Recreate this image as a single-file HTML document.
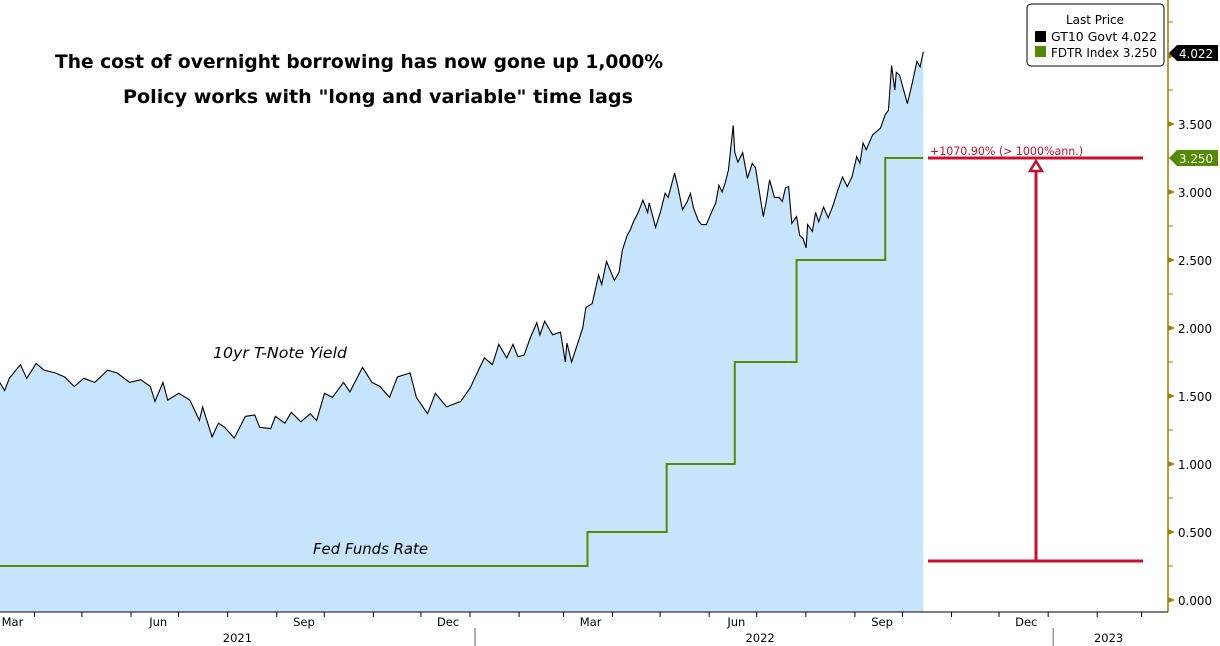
<!DOCTYPE html>
<html><head><meta charset="utf-8">
<style>
html,body{margin:0;padding:0;background:#fff;}
svg{display:block;font-family:"DejaVu Sans","Liberation Sans",sans-serif;}
</style></head>
<body>
<svg id="chart" width="1220" height="646" viewBox="0 0 1220 646" xmlns="http://www.w3.org/2000/svg">
  <g id="plot"></g>
  <g id="axes"></g>
  <text x="55" y="68" font-size="19" font-weight="bold" textLength="608" lengthAdjust="spacingAndGlyphs">The cost of overnight borrowing has now gone up 1,000%</text>
  <text x="123" y="103" font-size="19" font-weight="bold" textLength="510" lengthAdjust="spacingAndGlyphs">Policy works with "long and variable" time lags</text>
  <text x="213" y="358" font-size="15" font-style="italic" textLength="134" lengthAdjust="spacingAndGlyphs">10yr T-Note Yield</text>
  <text x="313" y="554" font-size="15" font-style="italic" textLength="115" lengthAdjust="spacingAndGlyphs">Fed Funds Rate</text>
  <g>
    <rect x="1027" y="4" width="137" height="62" rx="4" fill="#fff" stroke="#000" stroke-width="1"/>
    <text x="1095" y="24" font-size="12" text-anchor="middle">Last Price</text>
    <rect x="1035" y="31" width="11" height="11" fill="#000"/>
    <text x="1051" y="41" font-size="12" textLength="106" lengthAdjust="spacingAndGlyphs">GT10 Govt   4.022</text>
    <rect x="1035" y="46" width="11" height="11" fill="#548a00"/>
    <text x="1051" y="57" font-size="12" textLength="106" lengthAdjust="spacingAndGlyphs">FDTR Index 3.250</text>
  </g>
</svg>
<script>
// ---- data (days relative to 2022-01-01) ----
const yieldDays = [-300,-297,-294,-287,-283,-277,-272,-265,-259,-253,-247,-240,-232,-226,-218,-211,-205,-202,-197,-194,-187,-180,-174,-172,-166,-162,-158,-152,-145,-139,-136,-129,-126,-120,-116,-110,-104,-100,-95,-90,-83,-79,-71,-65,-60,-54,-49,-41,-37,-30,-25,-18,-9,-3,
3,6,11,15,20,24,27,31,35,39,41,44,49,54,57,58,61,68,70,74,78,80,83,88,91,93,96,98,100,103,106,109,110,114,117,120,122,126,128,131,134,136,138,141,143,146,150,152,154,156,158,160,163,164,166,169,172,175,177,179,182,184,186,189,192,194,196,198,200,203,205,207,209,210,213,215,217,220,223,226,229,232,235,238,241,243,245,247,251,256,259,261,263,265,266,268,273,276,279,281,283];
const yieldValues = [1.60,1.54,1.63,1.73,1.63,1.74,1.69,1.67,1.64,1.57,1.63,1.60,1.69,1.67,1.60,1.62,1.57,1.46,1.60,1.47,1.52,1.47,1.32,1.42,1.20,1.30,1.27,1.19,1.35,1.36,1.27,1.26,1.35,1.30,1.38,1.31,1.37,1.32,1.52,1.49,1.60,1.53,1.71,1.60,1.57,1.49,1.64,1.67,1.49,1.37,1.52,1.42,1.46,1.56,
1.71,1.78,1.73,1.88,1.78,1.88,1.79,1.80,1.93,2.04,1.95,2.05,1.95,1.97,1.75,1.89,1.75,2.00,2.15,2.18,2.39,2.32,2.49,2.35,2.41,2.57,2.68,2.72,2.78,2.85,2.94,2.85,2.92,2.74,2.85,2.99,2.96,3.14,3.04,2.87,2.93,2.99,2.88,2.79,2.76,2.76,2.87,2.92,3.05,3.00,3.07,3.16,3.49,3.29,3.22,3.29,3.10,3.21,3.18,3.04,2.82,2.94,3.09,2.96,2.96,2.93,3.03,3.04,2.77,2.82,2.68,2.66,2.59,2.76,2.71,2.85,2.78,2.89,2.81,2.90,3.01,3.11,3.04,3.11,3.26,3.21,3.36,3.31,3.42,3.47,3.57,3.60,3.93,3.75,3.88,3.86,3.65,3.80,3.96,3.92,4.03];
const fedDays = [-300,71,121,164,203,259,283];
const fedValues = [0.25,0.50,1.00,1.75,2.50,3.25,3.25];
const yTicks = [0,0.5,1,1.5,2,2.5,3,3.5,4];
const monthLabels = ["Mar","Jun","Sep","Dec","Mar","Jun","Sep","Dec"];
const monthLabelDays = [-292,-200,-108,-17,73,165,257,348];
const yearLabels = ["2021","2022","2023"];
const yearLabelDays = [-150,180,400];
const lastYield = "4.022", lastFed = "3.250";

const NS = "http://www.w3.org/2000/svg";
const X0 = 475, PXD = 1.584;
const x = d => X0 + d * PXD;
const y = v => 600 - 136 * v;
function mk(tag, attrs, parent){const e=document.createElementNS(NS,tag);for(const k in attrs)e.setAttribute(k,attrs[k]);parent.appendChild(e);return e;}
const plot = document.getElementById('plot'), axes = document.getElementById('axes');

// area + line
let pts = yieldDays.map((d,i)=>x(d).toFixed(1)+","+y(yieldValues[i]).toFixed(1));
const lastX = x(yieldDays[yieldDays.length-1]);
const area = mk('path',{d:"M"+x(yieldDays[0])+",612 L"+pts.join(" L")+" L"+lastX+",612 Z",fill:"#c6e4fc"},plot);


const line = mk('polyline',{points:pts.join(" "),fill:"none",stroke:"#000","stroke-width":1.1},plot);



// fed funds step
let fp = [];
for(let i=0;i<fedDays.length;i++){
  if(i>0) fp.push(x(fedDays[i])+","+y(fedValues[i-1]));
  fp.push(x(fedDays[i])+","+y(fedValues[i]));
}
const fed = mk('polyline',{points:fp.join(" "),fill:"none",stroke:"#548a00","stroke-width":2},plot);



// red annotation
const fedLast = fedValues[fedValues.length-1], fedFirst = fedValues[0];
const r1 = mk('line',{x1:928,x2:1143,y1:y(fedLast),y2:y(fedLast),stroke:"#c8102e","stroke-width":3},plot);


const r2 = mk('line',{x1:928,x2:1143,y1:y(fedFirst)-5,y2:y(fedFirst)-5,stroke:"#c8102e","stroke-width":3},plot);


const r3 = mk('line',{x1:1036,x2:1036,y1:y(fedFirst)-5,y2:y(fedLast)+10,stroke:"#c8102e","stroke-width":3},plot);


const r4 = mk('path',{d:`M1030,${y(fedLast)+13} L1036,${y(fedLast)+3} L1042,${y(fedLast)+13} Z`,fill:"#fff",stroke:"#c8102e","stroke-width":2.5},plot);


const rt = mk('text',{x:930,y:y(fedLast)-3,"font-size":11.5,fill:"#c8102e",textLength:153,lengthAdjust:"spacingAndGlyphs"},plot);
rt.textContent = "+1070.90% (> 1000%ann.)";



// y axis
const ax = mk('line',{x1:1168,x2:1168,y1:0,y2:612,stroke:"#a07c00","stroke-width":1.5},axes);


yTicks.forEach(v=>{
  const ty=y(v);
  const tk = mk('path',{d:`M1168,${ty-3} L1175,${ty} L1168,${ty+3} Z`,fill:"#a07c00"},axes);
  
  
  const mn = mk('line',{x1:1168,x2:1173,y1:ty-68*0.5,y2:ty-68*0.5,stroke:"#a07c00"},axes);
  
  
  if (v===4) return;
  const t = mk('text',{x:1178,y:ty+5,"font-size":12,fill:"#000",textLength:34,lengthAdjust:"spacingAndGlyphs"},axes);
  t.textContent = v.toFixed(3);
  
  
});
// badges
function badge(val, col, name){
  const by = y(parseFloat(val));
  const b = mk('path',{d:`M1169,${by} L1177,${by-8} L1218,${by-8} L1218,${by+8} L1177,${by+8} Z`,fill:col},axes);
  
  
  const t = mk('text',{x:1179,y:by+5,"font-size":12,fill:"#fff",textLength:34,lengthAdjust:"spacingAndGlyphs"},axes);
  t.textContent = val;
  
  
}
badge(lastYield,"#000","last-yield-badge");
badge(lastFed,"#548a00","last-fed-badge");

// x axis
const xl = mk('line',{x1:0,x2:1168,y1:612,y2:612,stroke:"#000","stroke-width":1},axes);


for(let m=-10;m<=14;m++){
  const dt = new Date(Date.UTC(2022,m,1));
  const d = (dt - Date.UTC(2022,0,1))/86400000;
  const tx = x(d)-5;
  if (tx<0||tx>1168) continue;
  const tk = mk('line',{x1:tx,x2:tx,y1:612,y2:617,stroke:"#000"},axes);
  
  
}
monthLabels.forEach((lab,i)=>{
  const t = mk('text',{x:x(monthLabelDays[i]),y:626,"font-size":11.5,"text-anchor":"middle",fill:"#000"},axes);
  t.textContent = lab;
  
  
});
yearLabels.forEach((lab,i)=>{
  const t = mk('text',{x:x(yearLabelDays[i]),y:642,"font-size":11.5,"text-anchor":"middle",fill:"#000"},axes);
  t.textContent = lab;
  
  
});
[0,365].forEach(d=>{
  const dv = mk('line',{x1:x(d),x2:x(d),y1:628,y2:646,stroke:"#666"},axes);
  
  
});
</script>
</body></html>
